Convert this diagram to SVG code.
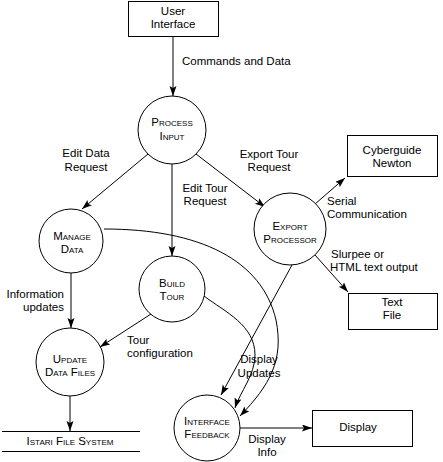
<svg xmlns="http://www.w3.org/2000/svg" width="443" height="462" viewBox="0 0 443 462">
<defs>
<marker id="ah" markerUnits="userSpaceOnUse" markerWidth="11" markerHeight="8" refX="10" refY="3.5" orient="auto">
<path d="M0,0 L10,3.5 L0,7 L2,3.5 z" fill="#000"/>
</marker>
<style>
text{font-family:"Liberation Sans",Arial,sans-serif;font-size:11.5px;fill:#000}
.c{text-anchor:middle}
.e{text-anchor:end}
.sc{font-variant:small-caps;text-anchor:middle}
.n{fill:#fff;stroke:#000;stroke-width:1}
.l{fill:none;stroke:#000;stroke-width:1;marker-end:url(#ah)}
</style>
</defs>
<rect width="443" height="462" fill="#fff"/>
<g id="connectors">
<path class="l" d="M173,36 L173,96"/>
<path class="l" d="M148,154 L82,209"/>
<path class="l" d="M172,164 L172,256"/>
<path class="l" d="M196,154 L265,207"/>
<path class="l" d="M315,204 L345,178"/>
<path class="l" d="M315,255 L348,292"/>
<path class="l" d="M71,273 L71,328"/>
<path class="l" d="M151,314 L100,347"/>
<path class="l" d="M70,396 L70,431"/>
<path class="l" d="M292,265 L221,395"/>
<path class="l" d="M204,296 C225,312 255,325 255,355 C255,375 240,392 235,408"/>
<path class="l" d="M104,229 C200,229 262,260 276,320 C284,360 270,385 240,416"/>
<path class="l" d="M240,428 L312,428"/>
</g>
<g id="labels">
<text x="182" y="65">Commands and Data</text>
<text class="c" x="86" y="157">Edit Data</text>
<text class="c" x="86" y="171">Request</text>
<text class="c" x="205" y="192">Edit Tour</text>
<text class="c" x="205" y="205">Request</text>
<text class="c" x="269" y="158">Export Tour</text>
<text class="c" x="269" y="171">Request</text>
<text x="327" y="205">Serial</text>
<text x="327" y="218">Communication</text>
<text x="331" y="258">Slurpee or</text>
<text x="330" y="271">HTML text output</text>
<text class="e" x="64" y="298">Information</text>
<text class="e" x="64" y="311">updates</text>
<text x="127" y="344">Tour</text>
<text x="127" y="357">configuration</text>
<text class="c" x="259" y="363">Display</text>
<text class="c" x="259" y="377">Updates</text>
<text class="c" x="267" y="443">Display</text>
<text class="c" x="267" y="456">Info</text>
</g>
<g id="user-interface">
<rect class="n" x="128.5" y="1.5" width="90" height="35"/>
<text class="c" x="173" y="15">User</text>
<text class="c" x="173" y="28">Interface</text>
</g>
<g id="process-input">
<circle class="n" cx="172" cy="130" r="34"/>
<text class="sc" x="172" y="126">Process</text>
<text class="sc" x="172" y="140">Input</text>
</g>
<g id="manage-data">
<circle class="n" cx="71" cy="241" r="32"/>
<text class="sc" x="72" y="240">Manage</text>
<text class="sc" x="72" y="253">Data</text>
</g>
<g id="build-tour">
<circle class="n" cx="172" cy="289" r="33"/>
<text class="sc" x="172" y="287">Build</text>
<text class="sc" x="172" y="300">Tour</text>
</g>
<g id="export-processor">
<circle class="n" cx="290" cy="229" r="36"/>
<text class="sc" x="290" y="230">Export</text>
<text class="sc" x="290" y="243">Processor</text>
</g>
<g id="cyberguide-newton">
<rect class="n" x="347.5" y="135.5" width="90" height="41"/>
<text class="c" x="392" y="154">Cyberguide</text>
<text class="c" x="392" y="167">Newton</text>
</g>
<g id="text-file">
<rect class="n" x="348.5" y="293.5" width="89" height="36"/>
<text class="c" x="392" y="306">Text</text>
<text class="c" x="392" y="319">File</text>
</g>
<g id="update-data-files">
<circle class="n" cx="70" cy="362" r="34"/>
<text class="sc" x="70" y="363">Update</text>
<text class="sc" x="70" y="376">Data Files</text>
</g>
<g id="istari-file-system">
<line x1="2" y1="431.5" x2="140" y2="431.5" stroke="#000"/>
<line x1="2" y1="451.5" x2="140" y2="451.5" stroke="#000"/>
<text class="sc" x="70" y="445">Istari File System</text>
</g>
<g id="interface-feedback">
<circle class="n" cx="207" cy="428" r="33"/>
<text class="sc" x="207" y="425">Interface</text>
<text class="sc" x="207" y="438">Feedback</text>
</g>
<g id="display">
<rect class="n" x="312.5" y="410.5" width="100" height="36"/>
<text class="c" x="358" y="431">Display</text>
</g>
</svg>
